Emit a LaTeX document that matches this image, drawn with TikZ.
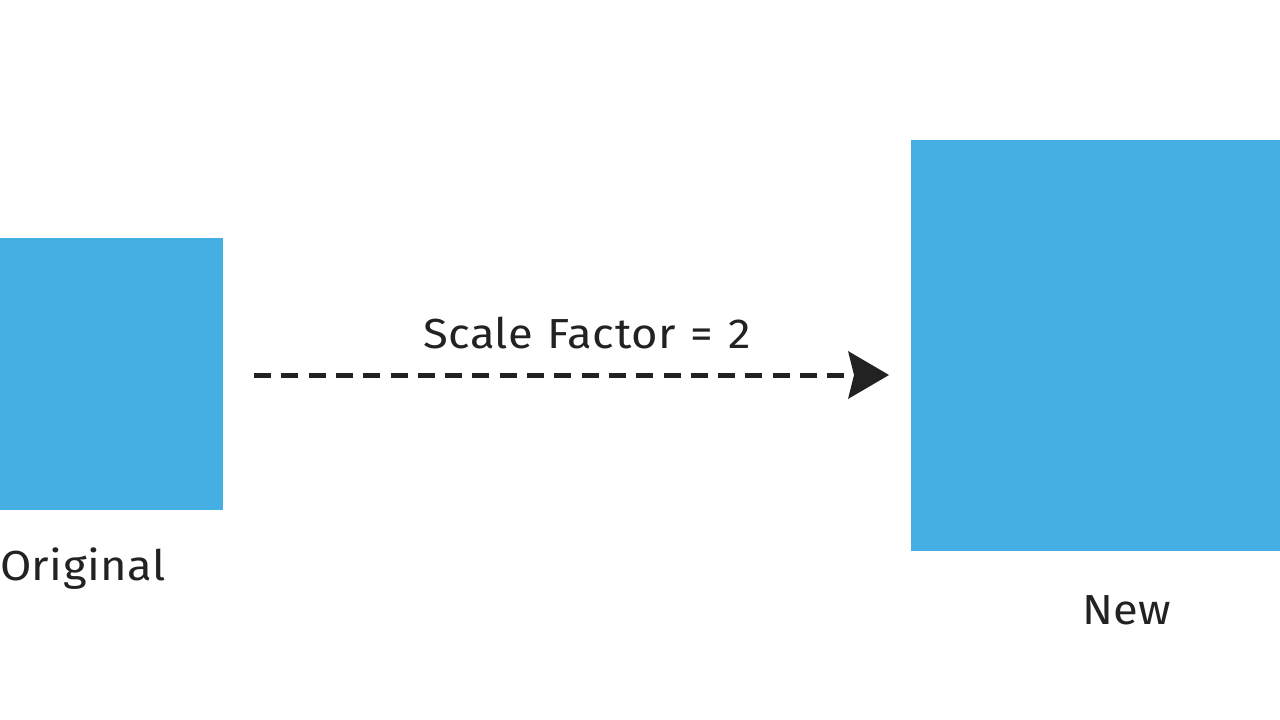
\documentclass[tikz,border=0pt]{standalone}
\usepackage{fontspec}
\setmainfont[FakeStretch=1.08,LetterSpace=1,WordSpace=1.2]{Fira Sans}
\definecolor{sq}{HTML}{45AEE2}
\definecolor{ink}{HTML}{222222}
\tikzset{x=1pt,y=-1pt,
 sqbox/.style={fill=sq,draw=none},
 lab/.style={text=ink,font=\fontsize{42}{48}\selectfont,inner sep=0pt},
 arr/.style={draw=ink,line width=5pt,dash pattern=on 17pt off 10.3pt}}
\begin{document}
\begin{tikzpicture}
\useasboundingbox (0,0) rectangle (1280,720);
\fill[white] (0,0) rectangle (1280,720);
\path[sqbox] (0,238) rectangle (223,510);
\path[sqbox] (911,140) rectangle (1280,551);
\node[lab,anchor=base west] (orig) at (0,580) {Original};
\node[lab,anchor=base] (new) at (1127,624) {New};
\node[lab,anchor=base] (sf) at (587,348) {Scale Factor = 2};
\coordinate (a) at (254,375);
\coordinate (b) at (852,375);
\coordinate (tip) at (889,375);
\draw[arr] (a) -- (b);
\fill[ink] (tip) -- (848,351) -- (854,375) -- (848,399) -- cycle;
\end{tikzpicture}
\end{document}
